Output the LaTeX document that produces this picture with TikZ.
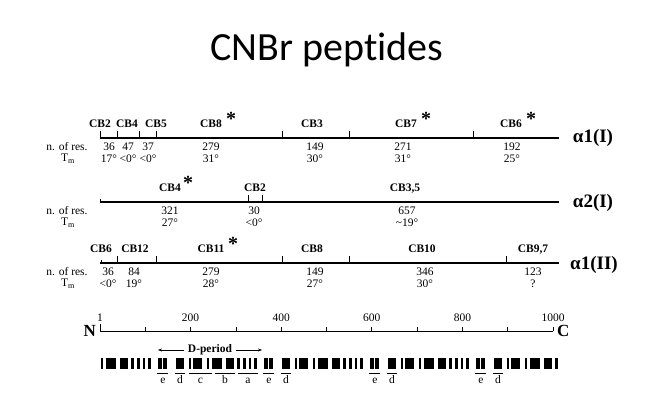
\documentclass[tikz,border=0pt]{standalone}
\usepackage{fontspec}
\setmainfont{Liberation Serif}
\newfontfamily\titlefont[Ligatures=NoCommon]{Carlito}
\usetikzlibrary{arrows.meta}
\usetikzlibrary{positioning}

\begin{document}
\begin{tikzpicture}[x=1pt, y=-1pt,
    chain/.style = {line width=1.4pt},
    cbtick/.style = {line width=0.7pt},
    cbname/.style = {anchor=base, font=\fontsize{11.5}{12}\selectfont\bfseries},
    val/.style = {anchor=base, font=\fontsize{11.5}{12}\selectfont},
    star/.style = {anchor=base, font=\fontsize{20}{20}\selectfont\bfseries},
    chainname/.style = {font=\fontsize{19}{20}\selectfont\bfseries},
    every node/.style = {inner sep=0pt}]
\useasboundingbox (0,0) rectangle (646,411);

\node[anchor=base] (title) at (327,61) {\titlefont\fontsize{40}{42}\selectfont CNBr peptides};

% alpha1(I)
\coordinate (a1s) at (100,138);
\coordinate (a1e) at (559,138);
\draw[chain] (a1s) -- (a1e);
\foreach \x in {100,117,139,156,282,349,473}
  \draw[cbtick] (\x,138) -- ++(0,-7);
\node[chainname] (a1name) at (593,138) {α1(I)};
\foreach \x/\t [count=\i] in {100/CB2,127/CB4,156/CB5,211/CB8,312/CB3,406/CB7,511/CB6}
  \node[cbname] (ca\i) at (\x,128) {\t};
\node[star] (sa1) at (231,126) {*};
\node[star] (sa2) at (426,126) {*};
\node[star] (sa3) at (531,126) {*};
\node[val] (nres1) at (67,151) {n. of res.};
\node[val] (tm1) at (68,162) {T\textsubscript{m}};
\foreach \x/\n/\t [count=\i] in {109/36/17°,128/47/<0°,148/37/<0°,211/279/31°,315/149/30°,403/271/31°,512/192/25°} {
  \node[val] (na\i) at (\x,151) {\n};
  \node[val] (ta\i) at (\x,163) {\t};
}

% alpha2(I)
\coordinate (a2s) at (100,202);
\coordinate (a2e) at (559,202);
\draw[chain] (a2s) -- (a2e);
\draw[cbtick] (100,202) -- ++(0,-3);
\foreach \x in {248,262}
  \draw[cbtick] (\x,202) -- ++(0,-7);
\node[chainname] (a2name) at (593,203) {α2(I)};
\node[cbname] (cb1) at (170,192) {CB4};
\node[cbname] (cb2) at (255,192) {CB2};
\node[cbname] (cb3) at (405,192) {CB3,5};
\node[star] (sb1) at (188,190) {*};
\node[val] (nres2) at (67,215) {n. of res.};
\node[val] (tm2) at (68,226) {T\textsubscript{m}};
\foreach \x/\n/\t [count=\i] in {170/321/27°,254/30/<0°,407/657/\textasciitilde19°} {
  \node[val] (nb\i) at (\x,215) {\n};
  \node[val] (tb\i) at (\x,227) {\t};
}

% alpha1(II)
\coordinate (a3s) at (100,263);
\coordinate (a3e) at (559,263);
\draw[chain] (a3s) -- (a3e);
\draw[cbtick] (101,263) -- ++(0,-3);
\foreach \x in {117,156,282,349,506}
  \draw[cbtick] (\x,263) -- ++(0,-7);
\node[chainname] (a3name) at (594,265) {α1(II)};
\foreach \x/\t [count=\i] in {101/CB6,135/CB12,211/CB11,312/CB8,422/CB10,533/{CB9,7}}
  \node[cbname] (cc\i) at (\x,253) {\t};
\node[star] (sc1) at (233,251) {*};
\node[val] (nres3) at (67,276) {n. of res.};
\node[val] (tm3) at (68,287) {T\textsubscript{m}};
\foreach \x/\n/\t [count=\i] in {108/36/<0°,134/84/19°,211/279/28°,315/149/27°,425/346/30°,533/123/?} {
  \node[val] (nc\i) at (\x,276) {\n};
  \node[val] (tc\i) at (\x,288) {\t};
}

% residue axis
\coordinate (ax0) at (100,331);
\coordinate (ax1) at (553,331);
\draw[line width=0.8pt] (ax0) -- (ax1);
\draw[cbtick] (ax0) -- ++(0,-7);
\foreach \k in {1,...,10}
  \draw[cbtick] ({100+45.3*\k},331) -- ++(0,-4);
\node[val] (p1) at (100,322) {1};
\foreach \k/\t in {2/200,4/400,6/600,8/800,10/1000}
  \node[val] (p\t) at ({100+45.3*\k},322) {\t};
\node[anchor=base east, font=\fontsize{17}{17}\selectfont\bfseries] (nterm) at (96,337) {N};
\node[anchor=base west, font=\fontsize{17}{17}\selectfont\bfseries] (cterm) at (557,337) {C};

% D-period
\node[val, font=\fontsize{11.5}{12}\selectfont\bfseries] (dper) at (210,353) {D-period};
\coordinate (dl) at (158,350);
\coordinate (dr) at (262,350);
\draw[-{Stealth[length=4pt,width=3pt]}, line width=0.5pt] (dper.west |- dl) ++(-4,0) -- (dl);
\draw[-{Stealth[length=4pt,width=3pt]}, line width=0.5pt] (dper.east |- dr) ++(4,0) -- (dr);

% band pattern
\begin{scope}
\clip (100,350) rectangle (560,372);
\foreach \k in {0,...,4}
  \foreach \a/\b in {0/3.5,5/9,18/26,31/33,35/44,49/51,54/64,68/76,79/82,85/87.5,90.5/93,96/99}
    \fill ({52+106*\k+\a},358) rectangle ({52+106*\k+\b},369);
\end{scope}
\foreach \e [count=\i] in {158,264,370,476} {
  \draw[line width=0.7pt] ({\e-1},373) -- ({\e+10},373);
  \draw[line width=0.7pt] ({\e+17},373) -- ({\e+27},373);
  \node[val] (be\i) at ({\e+5},384) {e};
  \node[val] (bd\i) at ({\e+22},384) {d};
}
\foreach \a/\b/\t in {31/54/c,57/77/b,80/100/a} {
  \draw[line width=0.7pt] ({158+\a},373) -- ({158+\b},373);
  \node[val] (b\t) at ({158+(\a+\b)/2},384) {\t};
}
\end{tikzpicture}
\end{document}
